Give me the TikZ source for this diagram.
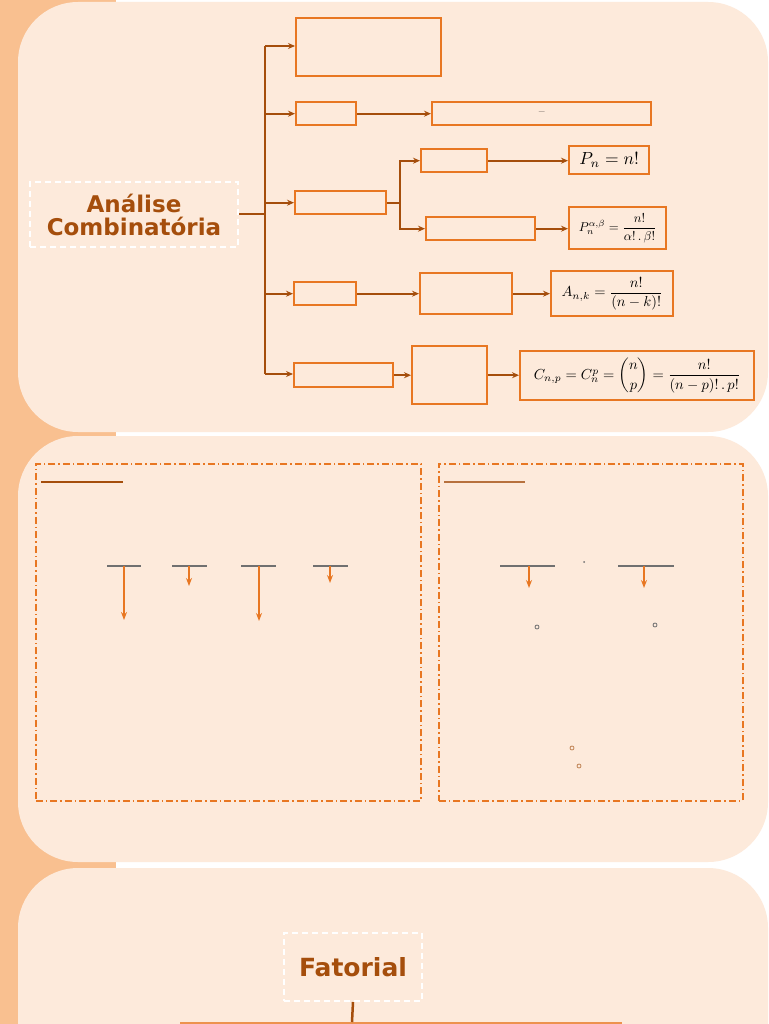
\documentclass[tikz,border=0pt]{standalone}
\usepackage{amsmath}
\usepackage{fontspec}
\setsansfont{DejaVu Sans}
\usetikzlibrary{arrows.meta}
\definecolor{strip}{HTML}{F9C090}
\definecolor{panel}{HTML}{FDEADB}
\definecolor{org}{HTML}{E87722}
\definecolor{brn}{HTML}{A54E0C}
\definecolor{gry}{HTML}{707070}
\begin{document}
\begin{tikzpicture}[x=1pt,y=-1pt,
  box/.style={draw=org,line width=2.4pt,inner sep=0pt,anchor=north west},
  conn/.style={draw=brn,line width=2pt,-{Stealth[length=7pt,width=6pt]}},
  line/.style={draw=brn,line width=2pt},
  oarr/.style={draw=org,line width=2pt,-{Stealth[length=8pt,width=6pt]}},
  gline/.style={draw=gry,line width=1.6pt},
  dd/.style={draw=org,line width=1.6pt,dash pattern=on 7pt off 3pt on 1.5pt off 3pt},
  wdash/.style={draw=white,line width=2pt,dash pattern=on 6pt off 4pt},
  ttl/.style={font=\sffamily\bfseries\fontsize{23}{25}\selectfont,text=brn,align=center},
  circ/.style={draw=#1,line width=0.8pt,circle,minimum size=4pt,inner sep=0pt}]
\useasboundingbox (0,0) rectangle (768,1024);
\fill[white] (0,0) rectangle (768,1024);
\fill[strip] (0,0) rectangle (116,1024);
\fill[panel,rounded corners=60pt] (18,2) rectangle (768,432);
\fill[panel,rounded corners=60pt] (18,436) rectangle (768,862);
\fill[panel,rounded corners=60pt] (18,868) rectangle (768,1150);
% top
\node[wdash,minimum width=208pt,minimum height=65pt,anchor=north west,ttl] (title) at (29,181) {Análise\\[-2pt]Combinatória};
\coordinate (ttop) at (265,46);
\coordinate (tbot) at (265,374);
\draw[line] (title.east) -- (title.east-|ttop);
\draw[line] (ttop) -- (tbot);
\node[box,minimum width=145pt,minimum height=58pt] (b1) at (295,17) {};
\node[box,minimum width=60pt,minimum height=23pt] (b2) at (295,101) {};
\node[box,minimum width=219pt,minimum height=23pt,font=\fontsize{12}{12}\selectfont] (b2b) at (431,101) {--};
\node[box,minimum width=91pt,minimum height=23pt] (b3) at (294,190) {};
\node[box,minimum width=66pt,minimum height=23pt] (b3a) at (420,148) {};
\node[box,minimum width=109pt,minimum height=23pt] (b3b) at (425,216) {};
\node[box,minimum width=80pt,minimum height=28pt] (f1) at (568,145) {\scalebox{1.75}{$P_n=n!$}};
\node[box,minimum width=97pt,minimum height=42pt] (f2) at (568,206) {\scalebox{1.28}{$P_n^{\alpha,\beta}=\dfrac{n!}{\alpha!\,.\,\beta!}$}};
\node[box,minimum width=62pt,minimum height=23pt] (b4) at (293,281) {};
\node[box,minimum width=92pt,minimum height=41pt] (b4b) at (419,272) {};
\node[box,minimum width=122pt,minimum height=45pt] (f3) at (550,270) {\scalebox{1.45}{$A_{n,k}=\dfrac{n!}{(n-k)!}$}};
\node[box,minimum width=234pt,minimum height=49pt] (f4) at (519,350) {\scalebox{1.45}{$C_{n,p}=C_n^p=\dbinom{n}{p}=\dfrac{n!}{(n-p)!\,.\,p!}$}};
\node[box,minimum width=99pt,minimum height=24pt] (b5) at (293,362) {};
\node[box,minimum width=75pt,minimum height=58pt] (b5b) at (411,345) {};
\draw[conn] (ttop) -- (b1.west|-ttop);
\draw[conn] (ttop|-b2.west) -- (b2.west);
\draw[conn] (ttop|-b3.west) -- (b3.west);
\draw[conn] (ttop|-b4.west) -- (b4.west);
\draw[conn] (tbot) -- (b5.west|-tbot);
\draw[conn] (b2.east) -- (b2b.west);
\coordinate (sp) at (400,201.5);
\draw[line] (b3.east) -- (b3.east-|sp);
\draw[conn] (b3.east-|sp) |- (b3a.west);
\draw[conn] (b3.east-|sp) |- (b3b.west);
\draw[conn] (b3a.east) -- (b3a.east-|f1.west);
\draw[conn] (b3b.east) -- (b3b.east-|f2.west);
\draw[conn] (b4.east) -- (b4.east-|b4b.west);
\draw[conn] (b4b.east) -- (b4b.east-|f3.west);
\draw[conn] (b5.east) -- (b5.east-|b5b.west);
\draw[conn] (b5b.east|-b5.east) -- (b5.east-|f4.west);
% middle
\node[dd,minimum width=385pt,minimum height=337pt,anchor=north west] (dl) at (35,463) {};
\node[dd,minimum width=304pt,minimum height=337pt,anchor=north west] (dr) at (438,463) {};
\draw[line,line width=2pt] (41,482) -- (123,482);
\draw[line,line width=2pt,draw=brn!80] (444,482) -- (525,482);
\foreach \a/\b/\c/\e [count=\i] in {107/141/124/620,172/207/189/586,241/276/259/621,313/348/330/583,500/555/529/588,618/674/644/588}{
  \coordinate (l\i) at (\a,566); \coordinate (r\i) at (\b,566);
  \coordinate (s\i) at (\c,566); \coordinate (e\i) at (\c,\e);
  \draw[gline] (l\i) -- (r\i);
  \draw[oarr] (s\i) -- (e\i);
}
\fill[gry] (584,562) circle (1pt);
\node[circ=gry] (c1) at (537,627) {};
\node[circ=gry] (c2) at (655,625) {};
\node[circ=brn!70] (c3) at (572,748) {};
\node[circ=brn!70] (c4) at (579,766) {};
% bottom
\node[wdash,minimum width=138pt,minimum height=68pt,anchor=north west,ttl,font=\sffamily\bfseries\fontsize{25}{27}\selectfont] (fat) at (283,932) {Fatorial};
\coordinate (fd) at (352,1022);
\draw[draw=org!80,line width=2.5pt] (180,1023) -- (622,1023);
\draw[draw=brn,line width=2.5pt] (fat.south) -- (fd);
\end{tikzpicture}
\end{document}
